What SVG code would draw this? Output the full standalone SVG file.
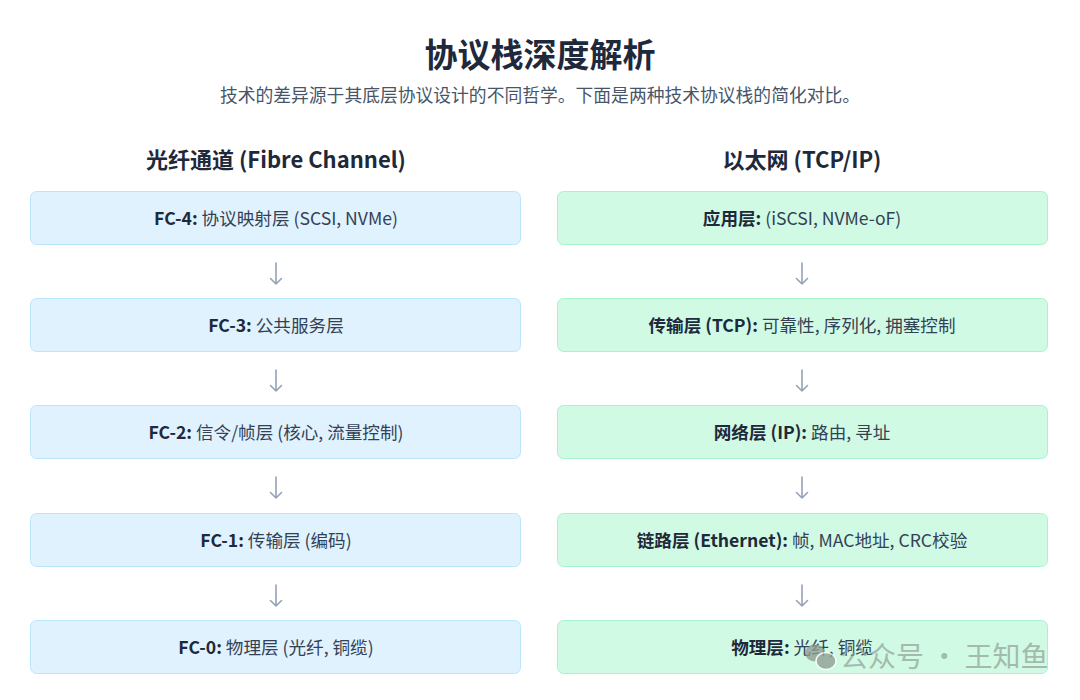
<svg xmlns="http://www.w3.org/2000/svg" width="1080" height="700" viewBox="0 0 1080 700">
<style>
text{font-family:"Noto Sans CJK SC","Noto Sans",sans-serif}
.title{font-size:33px;font-weight:700;fill:#1e293b;text-anchor:middle}
.sub{font-size:17.8px;fill:#475569;text-anchor:middle}
.head{font-size:22px;font-weight:700;fill:#1e293b;text-anchor:middle}
.lbl{font-size:17.6px;fill:#334155;text-anchor:middle}
.lbl tspan.b{font-weight:700;fill:#1e293b}
.fc{fill:#e0f2fe;stroke:#bae6fd;stroke-width:1}
.eth{fill:#d1fae5;stroke:#a7f3d0;stroke-width:1}
.arr{stroke:#94a3b8;stroke-width:1.6;fill:none;stroke-linecap:round;stroke-linejoin:round}
.wm{font-size:28px;fill:#8f9e94;opacity:0.85}
</style>
<rect width="1080" height="700" fill="#ffffff"/>
<text class="title" x="540" y="67">协议栈深度解析</text>
<text class="sub" x="540" y="102">技术的差异源于其底层协议设计的不同哲学。下面是两种技术协议栈的简化对比。</text>
<text class="head" x="276" y="168">光纤通道 (Fibre Channel)</text>
<text class="head" x="802" y="168">以太网 (TCP/IP)</text>

<g id="fc4"><rect class="fc" x="30.5" y="191.5" width="490" height="53" rx="6"/><text class="lbl" x="276" y="224.5"><tspan class="b">FC-4:</tspan> 协议映射层 (SCSI, NVMe)</text></g>
<g id="fc3"><rect class="fc" x="30.5" y="298.5" width="490" height="53" rx="6"/><text class="lbl" x="276" y="331.5"><tspan class="b">FC-3:</tspan> 公共服务层</text></g>
<g id="fc2"><rect class="fc" x="30.5" y="405.5" width="490" height="53" rx="6"/><text class="lbl" x="276" y="438.5"><tspan class="b">FC-2:</tspan> 信令/帧层 (核心, 流量控制)</text></g>
<g id="fc1"><rect class="fc" x="30.5" y="513.5" width="490" height="53" rx="6"/><text class="lbl" x="276" y="546.5"><tspan class="b">FC-1:</tspan> 传输层 (编码)</text></g>
<g id="fc0"><rect class="fc" x="30.5" y="620.5" width="490" height="53" rx="6"/><text class="lbl" x="276" y="653.5"><tspan class="b">FC-0:</tspan> 物理层 (光纤, 铜缆)</text></g>

<g id="app"><rect class="eth" x="557.5" y="191.5" width="490" height="53" rx="6"/><text class="lbl" x="802" y="224.5"><tspan class="b">应用层:</tspan> (iSCSI, NVMe-oF)</text></g>
<g id="tcp"><rect class="eth" x="557.5" y="298.5" width="490" height="53" rx="6"/><text class="lbl" x="802" y="331.5"><tspan class="b">传输层 (TCP):</tspan> 可靠性, 序列化, 拥塞控制</text></g>
<g id="ip"><rect class="eth" x="557.5" y="405.5" width="490" height="53" rx="6"/><text class="lbl" x="802" y="438.5"><tspan class="b">网络层 (IP):</tspan> 路由, 寻址</text></g>
<g id="link"><rect class="eth" x="557.5" y="513.5" width="490" height="53" rx="6"/><text class="lbl" x="802" y="546.5"><tspan class="b">链路层 (Ethernet):</tspan> 帧, MAC地址, CRC校验</text></g>
<g id="phy"><rect class="eth" x="557.5" y="620.5" width="490" height="53" rx="6"/><text class="lbl" x="802" y="653.5"><tspan class="b">物理层:</tspan> 光纤, 铜缆</text></g>

<g id="connectors">
<path class="arr" d="M276 263V284M270.5 278.5L276 284L281.5 278.5"/>
<path class="arr" d="M276 370V391M270.5 385.5L276 391L281.5 385.5"/>
<path class="arr" d="M276 477V498M270.5 492.5L276 498L281.5 492.5"/>
<path class="arr" d="M276 585V606M270.5 600.5L276 606L281.5 600.5"/>
<path class="arr" d="M802 263V284M796.5 278.5L802 284L807.5 278.5"/>
<path class="arr" d="M802 370V391M796.5 385.5L802 391L807.5 385.5"/>
<path class="arr" d="M802 477V498M796.5 492.5L802 498L807.5 492.5"/>
<path class="arr" d="M802 585V606M796.5 600.5L802 606L807.5 600.5"/>
</g>

<g id="watermark" opacity="0.8">
<ellipse cx="815" cy="653" rx="10" ry="8.5" fill="#8f9e94"/>
<ellipse cx="826" cy="661" rx="10" ry="8.5" fill="#8f9e94" stroke="#ffffff" stroke-width="1.5"/>
<text class="wm" x="840" y="667">公众号 · 王知鱼</text>
</g>
</svg>
